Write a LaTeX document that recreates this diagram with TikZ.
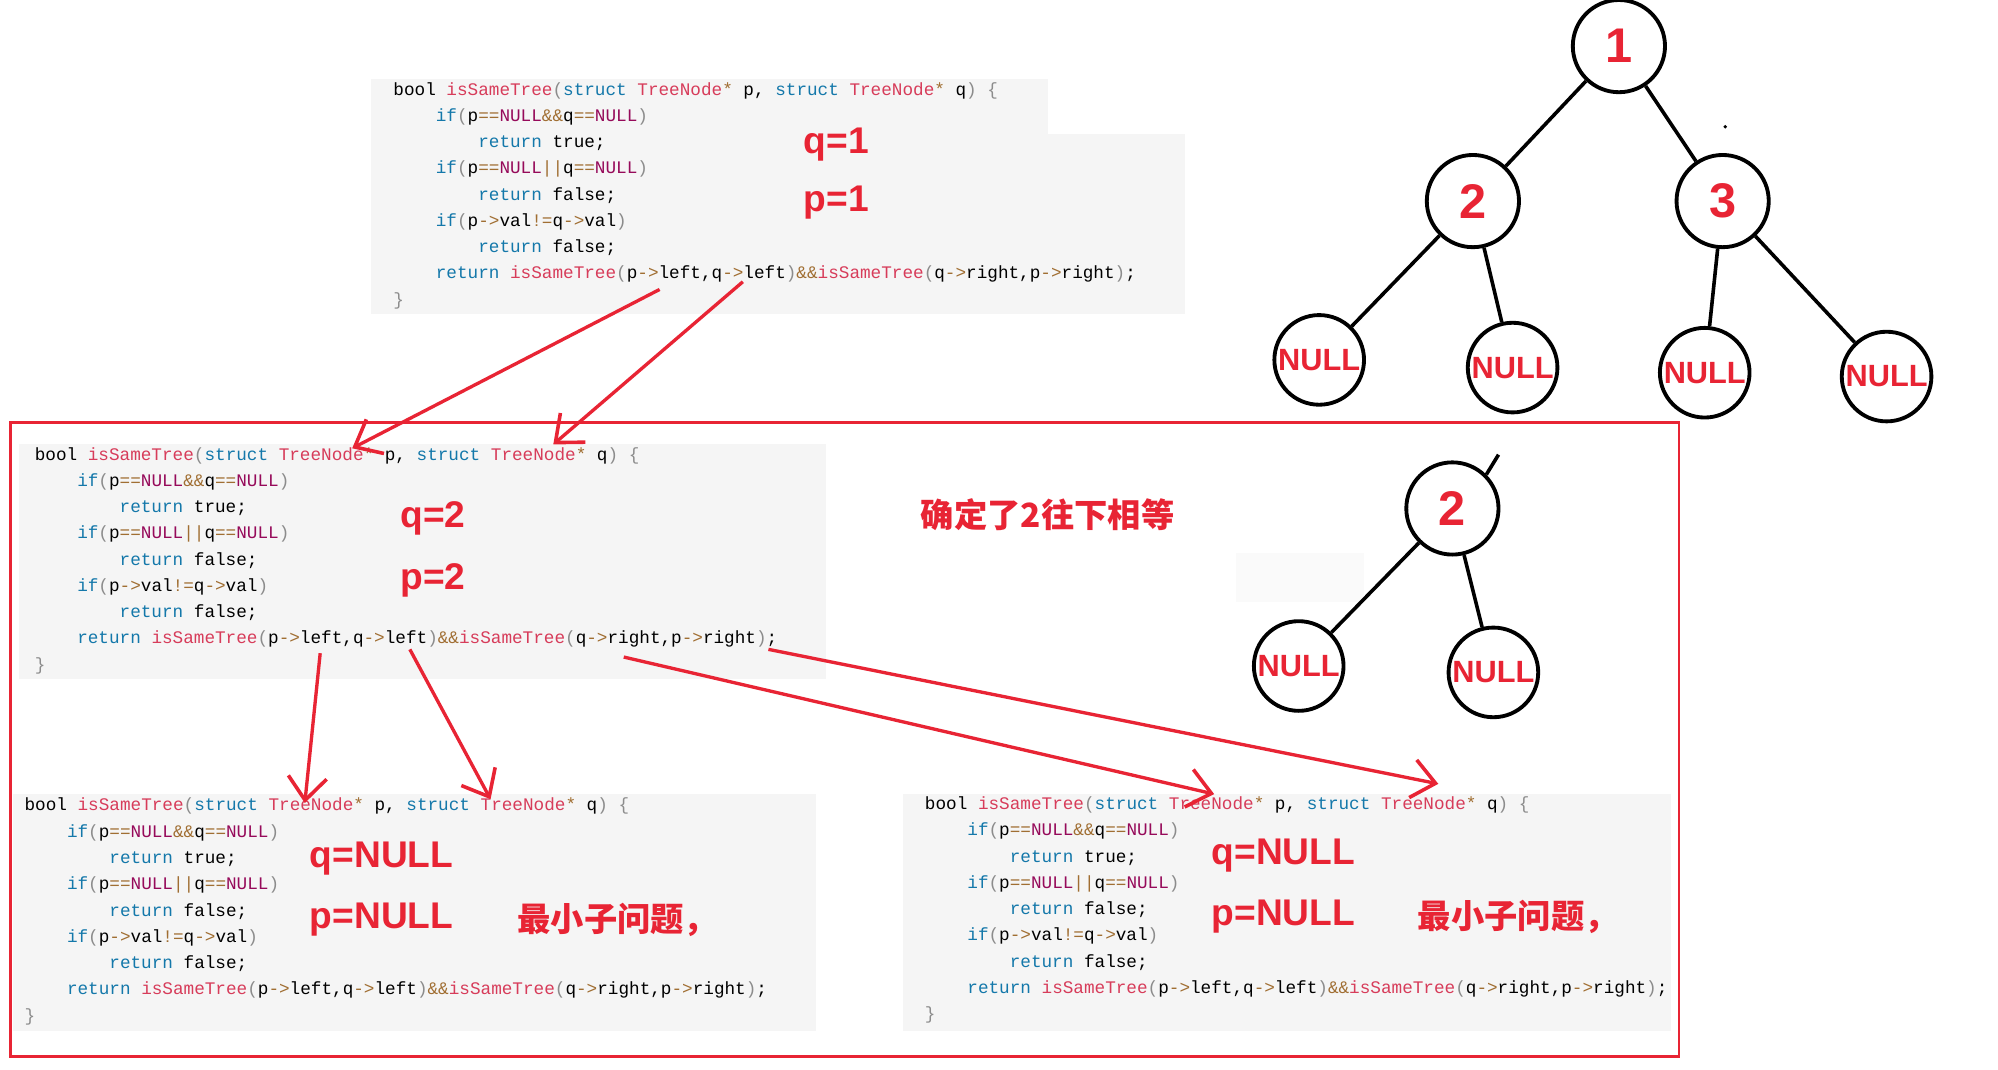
\documentclass[tikz,border=0pt]{standalone}
\usepackage{fontspec}
\setmainfont{Liberation Sans}
\newfontfamily\codefont{Liberation Mono}
\newfontfamily\cjk{Noto Sans CJK SC}
\usetikzlibrary{arrows.meta}
\definecolor{kwc}{RGB}{20,120,170}
\definecolor{fnc}{RGB}{215,60,90}
\definecolor{nlc}{RGB}{150,10,90}
\definecolor{opc}{RGB}{160,110,50}
\definecolor{pac}{RGB}{140,140,140}
\definecolor{rd}{RGB}{232,36,52}
\newcommand\kw[1]{\textcolor{kwc}{#1}}
\newcommand\fn[1]{\textcolor{fnc}{#1}}
\newcommand\nl[1]{\textcolor{nlc}{#1}}
\newcommand\op[1]{\textcolor{opc}{#1}}
\newcommand\pa[1]{\textcolor{pac}{#1}}
\newcommand\ind{\hspace*{2.4em}}
\newcommand\codetext{%
bool \fn{isSameTree}\pa{(}\kw{struct} \fn{TreeNode}\op{*} p, \kw{struct} \fn{TreeNode}\op{*} q\pa{)} \pa{\{}\\
\ind\kw{if}\pa{(}p\op{==}\nl{NULL}\op{\&\&}q\op{==}\nl{NULL}\pa{)}\\
\ind\ind\kw{return} true;\\
\ind\kw{if}\pa{(}p\op{==}\nl{NULL}\op{||}q\op{==}\nl{NULL}\pa{)}\\
\ind\ind\kw{return} false;\\
\ind\kw{if}\pa{(}p\op{->}val\op{!=}q\op{->}val\pa{)}\\
\ind\ind\kw{return} false;\\
\ind\kw{return} \fn{isSameTree}\pa{(}p\op{->}left,q\op{->}left\pa{)}\op{\&\&}\fn{isSameTree}\pa{(}q\op{->}right,p\op{->}right\pa{)};\\
\pa{\}}}
\tikzset{
 code/.style={anchor=north west,align=left,inner sep=0pt,font=\codefont\fontsize{13.8}{20.5}\selectfont},
 lab/.style={text=rd,font=\bfseries\fontsize{29}{30}\selectfont,inner sep=0pt},
 cjklab/.style={text=rd,font=\cjk\bfseries\fontsize{26}{28}\selectfont,inner sep=0pt},
 tn/.style={circle,draw=black,line width=3pt,minimum size=72pt,inner sep=0pt,text=rd,font=\bfseries\fontsize{38}{40}\selectfont},
 nn/.style={circle,draw=black,line width=3pt,minimum size=70pt,inner sep=0pt,text=rd,font=\bfseries\fontsize{24}{26}\selectfont},
 edge/.style={line width=2.8pt,black},
 rarr/.style={draw=rd,line width=2.6pt,-{Straight Barb[length=18pt,width=30pt,line width=2.8pt]}},
}
\begin{document}
\begin{tikzpicture}[x=1pt,y=-1pt]
\useasboundingbox[fill=white] (0,0) rectangle (1560,835);
% code backgrounds
\fill[black!4] (290,62) rectangle (818,105);
\fill[black!4] (290,105) rectangle (925,245);
\fill[black!4] (15,347) rectangle (645,530);
\fill[black!4] (10,620) rectangle (637,805);
\fill[black!4] (705,620) rectangle (1305,805);
\fill[black!2] (965,432) rectangle (1065,470);
\draw[rd,line width=2pt] (8,330) rectangle (1311,825);
% code
\node[code] (c1) at (307,64) {\codetext};
\node[code] (c2) at (27,349) {\codetext};
\node[code] (c3) at (19,623) {\codetext};
\node[code] (c4) at (722,622) {\codetext};
% labels
\node[lab] (q1) at (653,113) {q=1};
\node[lab] (p1) at (653,158) {p=1};
\node[lab] (q2) at (338,405) {q=2};
\node[lab] (p2) at (338,453) {p=2};
\node[lab] (q3) at (298,670) {q=NULL};
\node[lab] (p3) at (298,718) {p=NULL};
\node[cjklab] (m3) at (482,718) {最小子问题，};
\node[lab] (q4) at (1002,668) {q=NULL};
\node[lab] (p4) at (1002,716) {p=NULL};
\node[cjklab] (m4) at (1185,716) {最小子问题，};
\node[cjklab] (sd) at (818,402) {确定了2往下相等};
% tree 1
\node[tn] (t1) at (1264,36) {1};
\node[tn] (t2) at (1150,157) {2};
\node[tn] (t3) at (1345,157) {3};
\node[nn] (n1) at (1030,281) {NULL};
\node[nn] (n2) at (1181,287) {NULL};
\node[nn] (n3) at (1331,291) {NULL};
\node[nn] (n4) at (1473,294) {NULL};
\draw[edge] (t1) -- (t2); \draw[edge] (t1) -- (t3);
\draw[edge] (t2) -- (n1); \draw[edge] (t2) -- (n2);
\draw[edge] (t3) -- (n3); \draw[edge] (t3) -- (n4);
\fill (1347,99) circle (1.5pt);
% tree 2
\node[tn] (u2) at (1134,397) {2};
\node[nn] (m1) at (1014,520) {NULL};
\node[nn] (m2) at (1166,525) {NULL};
\coordinate (ustub) at (1170,355);
\draw[edge] (u2) -- (m1); \draw[edge] (u2) -- (m2);
\draw[edge] (u2.north east) -- (ustub);
% arrows
\coordinate (a1s) at (515,226); \coordinate (a1e) at (275,350);
\coordinate (a2s) at (580,220); \coordinate (a2e) at (432,347);
\coordinate (a3s) at (250,510); \coordinate (a3e) at (238,627);
\coordinate (a4s) at (320,507); \coordinate (a4e) at (383,624);
\coordinate (a5s) at (487,513); \coordinate (a5e) at (948,620);
\coordinate (a6s) at (600,507); \coordinate (a6e) at (1123,612);
\draw[rarr] (a1s) -- (a1e);
\draw[rarr] (a2s) -- (a2e);
\draw[rarr] (a3s) -- (a3e);
\draw[rarr] (a4s) -- (a4e);
\draw[rarr] (a5s) -- (a5e);
\draw[rarr] (a6s) -- (a6e);
\end{tikzpicture}
\end{document}
